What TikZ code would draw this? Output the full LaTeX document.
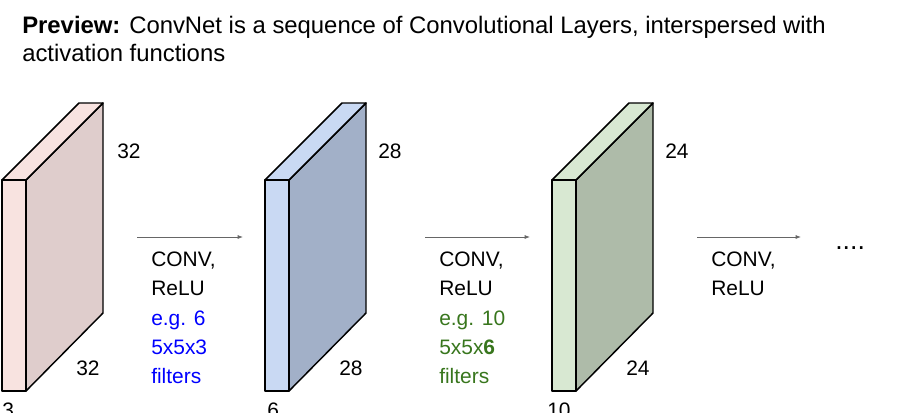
\documentclass[tikz,border=0pt]{standalone}
\usepackage{fontspec}
\setmainfont{Liberation Sans}
\definecolor{fA}{HTML}{F8E3E0}\definecolor{sA}{HTML}{DFCDCC}
\definecolor{fB}{HTML}{C9D9F3}\definecolor{sB}{HTML}{A2B0C8}
\definecolor{fC}{HTML}{D8E8D2}\definecolor{sC}{HTML}{AEBBA9}
\definecolor{gtxt}{HTML}{38761D}
\tikzset{
 face/.style={draw=black,line width=1.1pt,line join=round},
 lab/.style={anchor=base west,inner sep=0pt,font=\fontsize{15.7}{21.8}\selectfont},
 ttl/.style={anchor=base west,inner sep=0pt,font=\fontsize{17.9}{20}\selectfont},
 arr/.style={draw=gray!80!black,line width=0.6pt,-{Latex[length=4pt,width=3pt]}}
}
\usetikzlibrary{arrows.meta}
\newcommand{\vol}[3]{%
 \fill[#3,face] (#1+24,180) -- (#1+101,103) -- (#1+101,313) -- (#1+24,391) -- cycle;
 \fill[#2,face] (#1,180) -- (#1+77,103) -- (#1+101,103) -- (#1+24,180) -- cycle;
 \fill[#2,face] (#1,180) rectangle (#1+24,391);}
\begin{document}
\begin{tikzpicture}[x=0.75pt,y=-0.75pt]
\useasboundingbox (0,0) rectangle (913,412);
\node[ttl] (t1) at (22,33) {\textbf{Preview:} ConvNet is a sequence of Convolutional Layers, interspersed with};
\node[ttl] (t2) at (22,61) {activation functions};
\vol{2}{fA}{sA}
\vol{265}{fB}{sB}
\vol{552}{fC}{sC}
\node[lab] (a1) at (117,158) {32};
\node[lab] (a2) at (76,375) {32};
\node[lab] (a3) at (2,417) {3};
\node[lab] (b1) at (378,158) {28};
\node[lab] (b2) at (339,375) {28};
\node[lab] (b3) at (267,417) {6};
\node[lab] (c1) at (665,158) {24};
\node[lab] (c2) at (626,375) {24};
\node[lab] (c3) at (547,417) {10};
\coordinate (p1) at (137,237); \coordinate (q1) at (243,237);
\coordinate (p2) at (425,237); \coordinate (q2) at (530,237);
\coordinate (p3) at (697,237); \coordinate (q3) at (801,237);
\draw[arr] (p1) -- (q1);
\draw[arr] (p2) -- (q2);
\draw[arr] (p3) -- (q3);
\node[lab,align=left,anchor=north west] (l1) at (151,252) {CONV,\\ReLU\\\textcolor{blue}{e.g. 6}\\\textcolor{blue}{5x5x3}\\\textcolor{blue}{filters}};
\node[lab,align=left,anchor=north west] (l2) at (439,252) {CONV,\\ReLU\\\textcolor{gtxt}{e.g. 10}\\\textcolor{gtxt}{5x5x\textbf{6}}\\\textcolor{gtxt}{filters}};
\node[lab,align=left,anchor=north west] (l3) at (711,252) {CONV,\\ReLU};
\node[lab,font=\fontsize{20}{22}\selectfont] (d) at (835,249) {....};
\end{tikzpicture}
\end{document}
